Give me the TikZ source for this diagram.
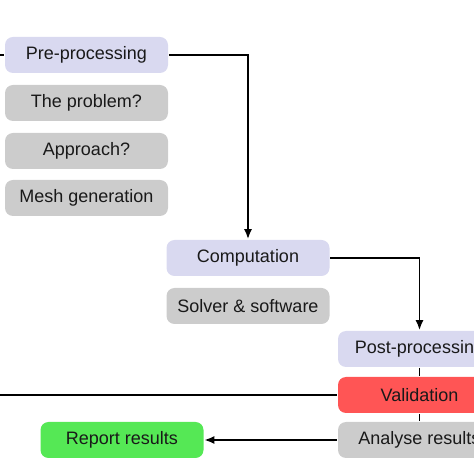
\documentclass[tikz,border=0pt]{standalone}
\usepackage{fontspec}
\setmainfont{Liberation Sans}
\usetikzlibrary{arrows.meta}
\definecolor{stagefill}{RGB}{217,217,240}
\definecolor{taskfill}{RGB}{204,204,204}
\definecolor{validfill}{RGB}{255,85,85}
\definecolor{reportfill}{RGB}{85,232,85}
\tikzset{
  box/.style={rounded corners=8pt, minimum width=163pt, minimum height=36pt,
    inner sep=0pt, font=\fontsize{18}{21}\selectfont, text=black!90},
  stage/.style={box, fill=stagefill},
  task/.style={box, fill=taskfill},
  link/.style={-{Latex[length=10pt,width=8pt]}}
}

\begin{document}
\begin{tikzpicture}[x=1pt,y=1pt,line width=1.7pt]
    \useasboundingbox (0,0) rectangle (474,474);
    \clip (0,0) rectangle (474,474);

    \node[stage] (pre) at (86.5,419) {Pre-processing};
    \node[task] (problem) at (86.5,371) {The problem?};
    \node[task] (approach) at (86.5,323) {Approach?};
    \node[task] (mesh) at (86.5,276) {Mesh generation};

    \node[stage] (comp) at (248,216) {Computation};
    \node[task] (solver) at (248,168) {Solver \& software};

    \node[stage] (post) at (419.5,125) {Post-processing};
    \node[box, fill=validfill] (valid) at (419.5,79) {Validation};
    \node[task] (analyse) at (419.5,34) {Analyse results};

    \node[box, fill=reportfill] (report) at (122,34) {Report results};

    \coordinate (loopin) at (0,419);
    \coordinate (loopout) at (0,79);

    \draw (loopin) -- (pre.west);
    \draw[link] (pre.east) -| (comp.north);
    \draw[link] (comp.east) -| (post.north);
    \draw (post.south) -- (valid.north);
    \draw (valid.south) -- (analyse.north);
    \draw (valid.west) -- (loopout);
    \draw[link] (analyse.west) -- (report.east);
\end{tikzpicture}
\end{document}
